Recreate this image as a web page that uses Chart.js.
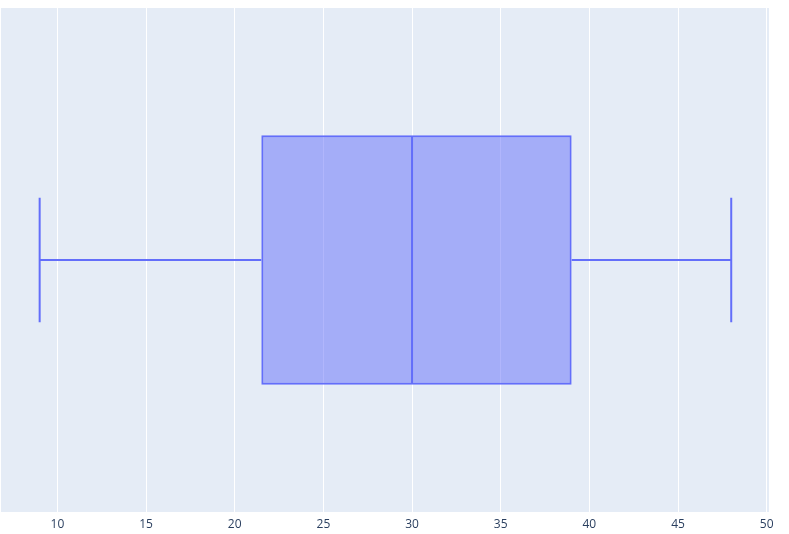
<!DOCTYPE html>
<html>
<head>
<meta charset="utf-8">
<script src="https://cdn.jsdelivr.net/npm/chart.js@4"></script>
<style>
  html, body { margin: 0; padding: 0; background: #fff; }
  #wrap { width: 789px; height: 534px; }
</style>
</head>
<body>
<div id="wrap"><canvas id="box-chart" width="789" height="534"></canvas></div>
<script>
// box stats
const categories = [''];
const lowerFence = [9];
const q1 = [21.5];
const median = [30];
const q3 = [39];
const upperFence = [48];
const xTicks = [10, 15, 20, 25, 30, 35, 40, 45, 50];

const lineColor = '#636efa';

// paints the plot background and the whiskers / median
const boxExtras = {
  id: 'boxExtras',
  beforeDraw(chart) {
    const { ctx, chartArea: a } = chart;
    ctx.save();
    ctx.fillStyle = '#E5ECF6';
    ctx.fillRect(a.left, a.top, a.right - a.left, a.bottom - a.top);
    ctx.restore();
  },
  afterDatasetsDraw(chart) {
    const { ctx } = chart;
    const x = chart.scales.x;
    const meta = chart.getDatasetMeta(0);
    ctx.save();
    ctx.strokeStyle = lineColor;
    ctx.lineWidth = 2;
    meta.data.forEach((bar, i) => {
      const cy = bar.y;
      const h = bar.height;
      const top = cy - h / 2, bot = cy + h / 2;
      const pMin = x.getPixelForValue(lowerFence[i]);
      const pQ1 = x.getPixelForValue(q1[i]);
      const pMed = x.getPixelForValue(median[i]);
      const pQ3 = x.getPixelForValue(q3[i]);
      const pMax = x.getPixelForValue(upperFence[i]);
      ctx.beginPath();
      // whiskers
      ctx.moveTo(pMin, cy); ctx.lineTo(pQ1, cy);
      ctx.moveTo(pQ3, cy); ctx.lineTo(pMax, cy);
      // caps
      ctx.moveTo(pMin, cy - h / 4); ctx.lineTo(pMin, cy + h / 4);
      ctx.moveTo(pMax, cy - h / 4); ctx.lineTo(pMax, cy + h / 4);
      // median
      ctx.moveTo(pMed, top + 1); ctx.lineTo(pMed, bot - 1);
      ctx.stroke();
    });
    ctx.restore();
  }
};

new Chart(document.getElementById('box-chart'), {
  type: 'bar',
  data: {
    labels: categories,
    datasets: [{
      data: categories.map((_, i) => [q1[i], q3[i]]),
      backgroundColor: 'rgba(99, 110, 250, 0.5)',
      borderColor: lineColor,
      borderWidth: 2,
      borderSkipped: false,
      barPercentage: 0.495,
      categoryPercentage: 1
    }]
  },
  options: {
    indexAxis: 'y',
    responsive: false,
    animation: false,
    layout: { padding: { left: 1, top: 8, right: 20, bottom: 0 } },
    plugins: { legend: { display: false }, tooltip: { enabled: false } },
    scales: {
      x: {
        type: 'linear',
        min: 6.82,
        max: 50.13,
        afterFit(scale) { scale.height = 22; },
        afterBuildTicks(scale) { scale.ticks = xTicks.map(v => ({ value: v })); },
        grid: { color: '#ffffff', lineWidth: 1, drawTicks: false },
        border: { display: false },
        ticks: {
          padding: 5,
          color: '#2a3f5f',
          font: { family: 'Open Sans', size: 12 }
        }
      },
      y: { display: false }
    }
  },
  plugins: [boxExtras]
});
</script>
</body>
</html>
